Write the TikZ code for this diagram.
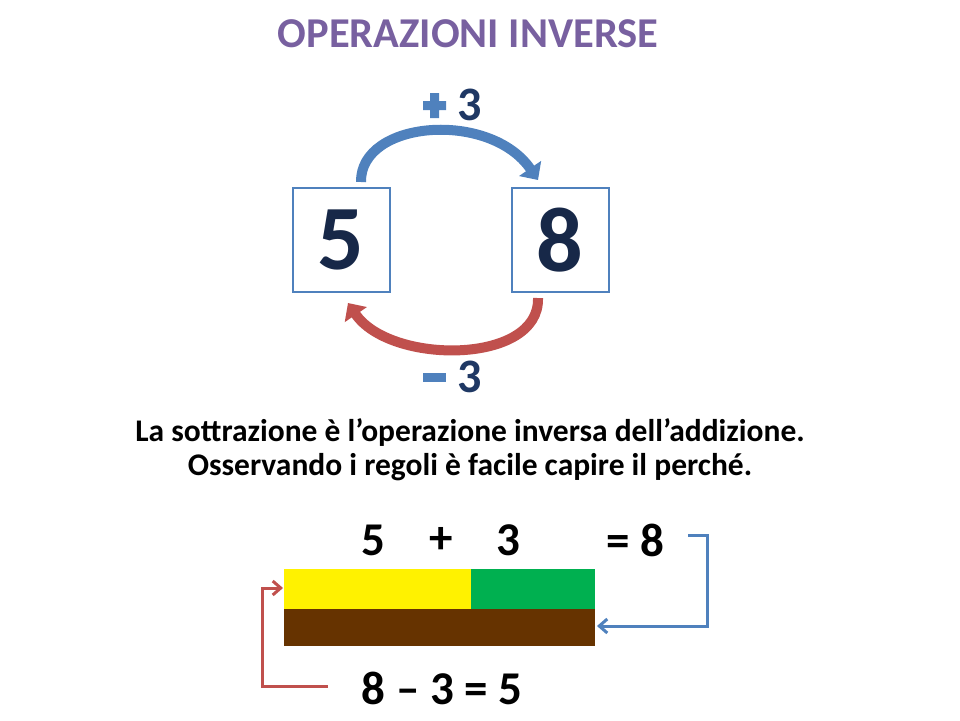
\documentclass[tikz,border=0pt]{standalone}
\usepackage{fontspec}
\setmainfont{Carlito}
\usetikzlibrary{arrows.meta}
\definecolor{bblue}{RGB}{79,129,189}
\definecolor{rred}{RGB}{192,80,77}
\definecolor{navy}{RGB}{23,40,72}
\definecolor{dnavy}{RGB}{31,56,100}
\definecolor{ttl}{RGB}{120,96,160}
\definecolor{brown}{RGB}{102,51,0}
\definecolor{gr}{RGB}{0,176,80}
\begin{document}
\begin{tikzpicture}[x=1pt,y=-1pt,
  numbox/.style={draw=bblue,line width=2pt,minimum width=97pt,minimum height=104pt,font=\bfseries\fontsize{92}{92}\selectfont,text=navy},
  lbl/.style={font=\bfseries\fontsize{48}{48}\selectfont,text=dnavy},
  eq/.style={font=\bfseries\fontsize{47}{47}\selectfont},
  txt/.style={font=\bfseries\fontsize{31.5}{34}\selectfont,align=center},
  conn/.style={line width=3pt,-{Straight Barb[length=8pt,width=14pt]}}]
\useasboundingbox (0,0) rectangle (960,720);
\node[font=\bfseries\fontsize{42.5}{42.5}\selectfont,text=ttl] (title) at (468,34) {OPERAZIONI INVERSE};
\node[numbox] (a) at (341,240) {5};
\node[numbox] (b) at (560,240) {8};
\fill[bblue] (423,101) rectangle (446,110) (430,93) rectangle (439,118);
\node[lbl] (plus) at (470,105) {3};
\fill[bblue] (423,373) rectangle (446,382);
\node[lbl] (minus) at (470,377) {3};
\draw[bblue,line width=10pt,-{Triangle[length=14pt,width=26pt]}] (361,182) .. controls (360,120) and (490,110) .. (538,180);
\draw[rred,line width=10pt,-{Triangle[length=14pt,width=26pt]}] (538,298) .. controls (540,365) and (390,365) .. (348,303);
\node[txt] (t) at (470,450) {La sottrazione è l’operazione inversa dell’addizione.\\Osservando i regoli è facile capire il perché.};
\node[eq] (n5) at (373,540) {5};
\node[eq] (np) at (441,540) {+};
\node[eq] (n3) at (508,540) {3};
\node[eq,anchor=east] (n8) at (668,540) {= 8};
\fill[yellow] (284,569) rectangle (471,609);
\fill[gr] (471,569) rectangle (595,609);
\fill[brown] (284,609) rectangle (595,646);
\coordinate (ye) at (283,588);
\coordinate (br) at (597,626);
\node[eq] (res) at (442,688) {8 – 3 = 5};
\draw[conn,bblue] (688,535) -- (707,535) -- (707,626) -- (br);
\draw[conn,rred] (328,686) -- (262,686) -- (262,588) -- (ye);
\end{tikzpicture}
\end{document}
